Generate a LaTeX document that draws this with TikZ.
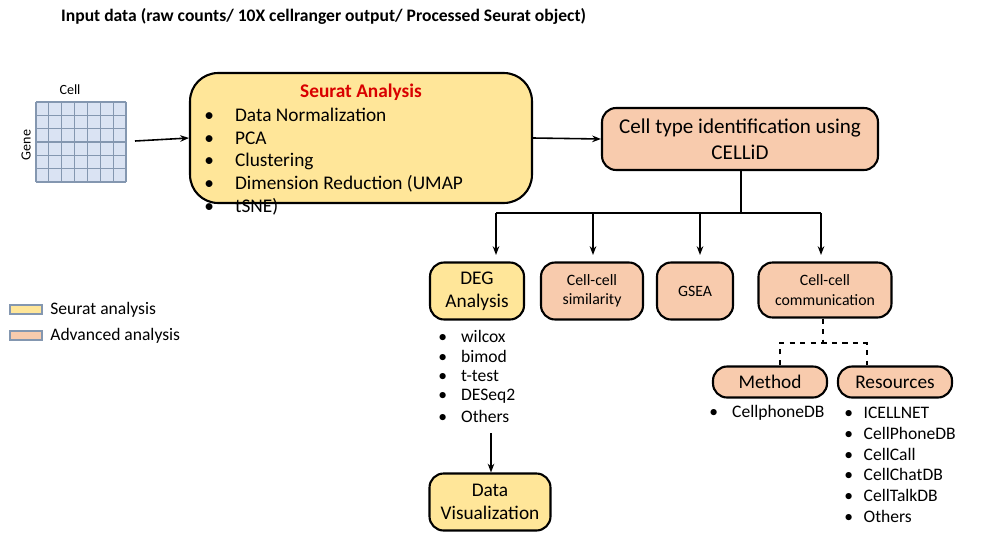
\documentclass[tikz,border=0pt]{standalone}
\usepackage{fontspec}
\setmainfont{Carlito}
\usetikzlibrary{positioning,arrows.meta}
\definecolor{seuratfill}{HTML}{FFE699}
\definecolor{advfill}{HTML}{F8CBAD}
\definecolor{gridfill}{HTML}{DAE3F3}
\definecolor{gridline}{HTML}{8497B0}
\tikzset{
  box/.style={draw=black, line width=1.2pt, rounded corners=8pt, align=center, inner sep=2pt},
  seurat/.style={box, fill=seuratfill},
  adv/.style={box, fill=advfill},
  item/.style={anchor=west, inner sep=0pt, font=\fontsize{10}{12}\selectfont},
  flow/.style={-{Stealth[length=5pt]}, line width=0.9pt},
}
\begin{document}
\begin{tikzpicture}[x=0.02cm, y=-0.02cm]
  \useasboundingbox (0,0) rectangle (993,537);
  \node [anchor=west, font=\bfseries\fontsize{10}{12}\selectfont] (title) at (55,16) {Input data (raw counts/ 10X cellranger output/ Processed Seurat object)};
  % expression matrix
  \fill [gridfill] (36,102) rectangle (126,182);
  \foreach \i in {0,...,7} \draw [gridline, line width=0.6pt] (36+\i*12.857,102) -- (36+\i*12.857,182);
  \foreach \j in {0,...,6} \draw [gridline, line width=0.6pt] (36,102+\j*13.33) -- (126,102+\j*13.33);
  \node (matrix) [minimum width=1.8cm, minimum height=1.6cm, inner sep=0pt] at (81,142) {};
  \node [font=\fontsize{8}{10}\selectfont] (cell) at (70,90) {Cell};
  \node [font=\fontsize{8}{10}\selectfont, rotate=90] (gene) at (26,145) {Gene};
  % Seurat
  \node [seurat, rounded corners=16pt, minimum width=6.84cm, minimum height=2.6cm] (seurat) at (361,138) {};
  \node [font=\bfseries\fontsize{11}{13}\selectfont, text=red!85!black] (stitle) at (361,92) {Seurat Analysis};
  \foreach \t [count=\k] in {Data Normalization, PCA, Clustering, Dimension Reduction (UMAP, tSNE)}
    \node [item, font=\fontsize{11}{13}\selectfont] (s\k) at (204,92+\k*23) {\textbullet\hspace{12pt}\t};
  \node [adv, minimum width=5.52cm, minimum height=1.24cm, font=\fontsize{12}{15}\selectfont] (cellid) at (740,139) {Cell type identification using\\CELLiD};
  \draw [flow] (135,141) -- (seurat.west);
  \draw [flow] (seurat.east) -- (cellid.west);
  % branches
  \node [seurat, minimum width=1.88cm, minimum height=1.14cm, font=\fontsize{11}{13}\selectfont] (deg) at (477,291) {DEG\\Analysis};
  \node [adv, minimum width=2.04cm, minimum height=1.14cm, font=\fontsize{9}{11}\selectfont] (sim) at (592,291) {Cell-cell\\similarity};
  \node [adv, minimum width=1.52cm, minimum height=1.14cm, font=\fontsize{9}{11}\selectfont] (gsea) at (695,291) {GSEA};
  \node [adv, minimum width=2.66cm, minimum height=1.1cm, font=\fontsize{9}{11}\selectfont] (comm) at (825,290) {Cell-cell\\communication};
  \coordinate (split) at (741,213);
  \draw [line width=1.2pt] (cellid.south -| split) -- (split);
  \draw [line width=1.2pt] (496,213) -- (821,213);
  \draw [flow] (496,213) -- (496,255);
  \draw [flow] (593,213) -- (593,255);
  \draw [flow] (700,213) -- (700,255);
  \draw [flow] (821,213) -- (821,255);
  % DEG methods
  \foreach \t [count=\k] in {wilcox, bimod, t-test, DESeq2, Others}
    \node [item] (d\k) at (438,316+\k*20) {\textbullet\hspace{8pt}\t};
  \node [seurat, minimum width=2.42cm, minimum height=1.14cm, font=\fontsize{11}{13}\selectfont] (vis) at (490,502) {Data\\Visualization};
  \draw [flow] (491,433) -- (vis.north -| 491,0);
  % communication
  \node [adv, minimum width=2.28cm, minimum height=0.62cm, font=\fontsize{11}{13}\selectfont] (method) at (770,382) {Method};
  \node [adv, minimum width=2.28cm, minimum height=0.62cm, font=\fontsize{11}{13}\selectfont] (res) at (895,382) {Resources};
  \draw [dashed, line width=0.6pt] (comm.south -| 823,0) -- (823,343);
  \draw [dashed, line width=0.6pt] (780,365) -- (780,343) -- (867,343) -- (867,365);
  \node [item] (m1) at (709,413) {\textbullet\hspace{8pt}CellphoneDB};
  \foreach \t [count=\k] in {ICELLNET, CellPhoneDB, CellCall, CellChatDB, CellTalkDB, Others}
    \node [item] (r\k) at (844,392.4+\k*20.6) {\textbullet\hspace{6pt}\t};
  % legend
  \draw [gridline, fill=seuratfill, line width=0.8pt] (10,305) rectangle (42,314);
  \node [item] (lseurat) at (50,310) {Seurat analysis};
  \draw [gridline, fill=advfill, line width=0.8pt] (10,331) rectangle (42,340);
  \node [item] (ladv) at (50,336) {Advanced analysis};
\end{tikzpicture}
\end{document}
